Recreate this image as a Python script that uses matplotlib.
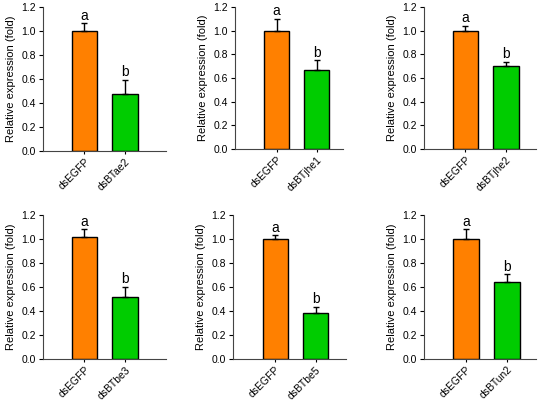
import matplotlib
matplotlib.use("Agg")
import matplotlib.pyplot as plt

plt.rcParams['font.family'] = ['Liberation Sans', 'DejaVu Sans']

control = 'dsEGFP'
genes = ['dsBTae2', 'dsBTjhe1', 'dsBTjhe2', 'dsBTbe3', 'dsBTbe5', 'dsBTun2']
control_mean = [1.00, 1.00, 1.00, 1.015, 1.00, 1.00]
control_err = [0.065, 0.10, 0.04, 0.065, 0.03, 0.08]
gene_mean = [0.475, 0.665, 0.70, 0.52, 0.385, 0.645]
gene_err = [0.12, 0.085, 0.035, 0.08, 0.05, 0.06]
letters = ['a', 'b']

# panel rectangles in pixels: left, top(ymax), right, bottom(y=0)
boxes = [(43, 7, 166, 151), (235, 7, 343, 149), (424, 7, 536, 149),
         (43, 215, 166, 359), (233, 215, 346, 359), (424, 215, 536, 359)]
xlims = [(-1.02, 2.01), (-1.04, 1.66), (-1.02, 1.74),
         (-1.02, 2.01), (-1.04, 1.75), (-1.02, 1.71)]

W, H = 550, 404
fig = plt.figure(figsize=(W / 100, H / 100), dpi=100)

for i in range(6):
    l, t, r, b = boxes[i]
    ax = fig.add_axes([l / W, 1 - b / H, (r - l) / W, (b - t) / H])
    means = [control_mean[i], gene_mean[i]]
    errs = [control_err[i], gene_err[i]]
    ax.bar([0, 1], means, width=0.62, color=['#FF8000', '#00CC00'],
           edgecolor='black', linewidth=1.0, zorder=2,
           yerr=[[0, 0], errs], capsize=2.5,
           error_kw=dict(ecolor='black', elinewidth=1.0, capthick=1.0))
    for x, m, e, s in zip([0, 1], means, errs, letters):
        ax.text(x, m + e + 0.005, s, ha='center', va='bottom', fontsize=10)
    ax.set_xlim(*xlims[i])
    ax.set_ylim(0, 1.2)
    ax.set_yticks([0, 0.2, 0.4, 0.6, 0.8, 1.0, 1.2])
    ax.set_yticklabels(['%.1f' % v for v in [0, 0.2, 0.4, 0.6, 0.8, 1.0, 1.2]])
    ax.set_xticks([0, 1])
    ax.set_xticklabels([control, genes[i]], rotation=45, ha='right',
                       rotation_mode='anchor')
    ax.tick_params(axis='y', labelsize=7.5, length=3, width=0.8, pad=2)
    ax.tick_params(axis='x', labelsize=7.5, length=2, width=0.8, pad=2)
    ax.set_ylabel('Relative expression (fold)', fontsize=8, labelpad=4)
    for s in ['top', 'right']:
        ax.spines[s].set_visible(False)
    for s in ['left', 'bottom']:
        ax.spines[s].set_linewidth(0.8)
        ax.spines[s].set_color('#444444')

fig.savefig('out.png', dpi=100)
